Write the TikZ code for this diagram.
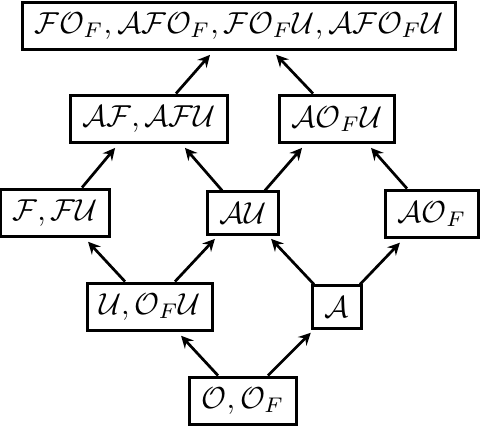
\documentclass[tikz,border=0pt]{standalone}
\usetikzlibrary{arrows.meta, calc}

\begin{document}
\begin{tikzpicture} [
			x=0.33pt, y=-0.33pt,
			>={Stealth[length=4pt,width=4pt,inset=1.4pt]},
			every node/.style={font=\normalsize,align=center},
			lattice/.style={draw,rectangle,line width=1pt,inner xsep=4pt,inner ysep=3pt,minimum height=15.8pt},
			small/.style={minimum height=13.9pt},
			up/.style={->,line width=0.9pt,shorten >=1.5pt}
		]
			\useasboundingbox (0,0) rectangle (481,430);
			\node at (239,26) [lattice] (nodeTop) {$\mathcal{F}\mathcal{O}_F, \mathcal{A}\mathcal{F}\mathcal{O}_F, \mathcal{F}\mathcal{O}_F\mathcal{U}, \mathcal{A}\mathcal{F}\mathcal{O}_F\mathcal{U}$};
			\node at (149,119) [lattice] (nodeAF) {$\mathcal{A}\mathcal{F}, \mathcal{A}\mathcal{F}\mathcal{U}$};
			\node at (337,119) [lattice] (nodeAOU) {$\mathcal{A}\mathcal{O}_F\mathcal{U}$};
			\node at (55,213) [lattice] (nodeF) {$\mathcal{F}, \mathcal{F}\mathcal{U}$};
			\node at (243,213) [lattice,small] (nodeAU) {$\mathcal{A}\mathcal{U}$};
			\node at (432,214) [lattice] (nodeAO) {$\mathcal{A}\mathcal{O}_F$};
			\node at (150,307) [lattice] (nodeU) {$\mathcal{U}, \mathcal{O}_F\mathcal{U}$};
			\node at (337,307) [lattice,small] (nodeA) {$\mathcal{A}$};
			\node at (243,401) [lattice] (nodeO) {$\mathcal{O}, \mathcal{O}_F$};
			% bottom row
			\path[up] ($(nodeO.north)+(-25,0)$) edge ($(nodeU.south)+(28,0)$);
			\path[up] ($(nodeO.north)+(25,0)$) edge ($(nodeA.south)+(-23,0)$);
			% middle rows
			\path[up] ($(nodeU.north)+(-25,0)$) edge ($(nodeF.south)+(30,0)$);
			\path[up] ($(nodeU.north)+(25,0)$) edge ($(nodeAU.south)+(-25,0)$);
			\path[up] ($(nodeA.north)+(-23,0)$) edge ($(nodeAU.south)+(25,0)$);
			\path[up] ($(nodeA.north)+(23,0)$) edge ($(nodeAO.south)+(-29,0)$);
			\path[up] ($(nodeF.north)+(27,0)$) edge ($(nodeAF.south)+(-31,0)$);
			\path[up] ($(nodeAU.north)+(-21,0)$) edge ($(nodeAF.south)+(33,0)$);
			\path[up] ($(nodeAU.north)+(22,0)$) edge ($(nodeAOU.south)+(-32,0)$);
			\path[up] ($(nodeAO.north)+(-25,0)$) edge ($(nodeAOU.south)+(31,0)$);
			% top row
			\path[up] ($(nodeAF.north)+(27,0)$) edge ($(nodeTop.south)+(-26,0)$);
			\path[up] ($(nodeAOU.north)+(-24,0)$) edge ($(nodeTop.south)+(34,0)$);
		\end{tikzpicture}
\end{document}
